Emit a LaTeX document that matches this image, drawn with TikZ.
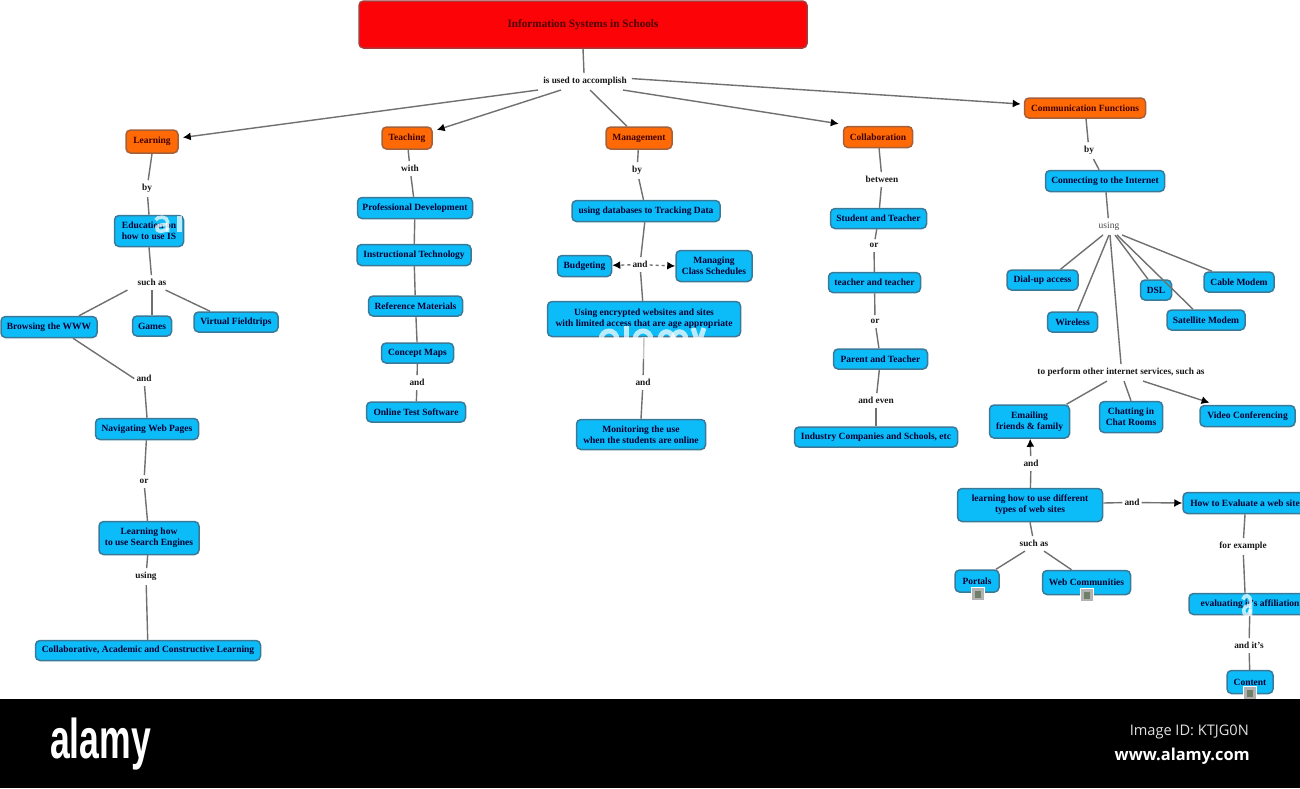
\documentclass[tikz,border=0pt]{standalone}
\usepackage{fontspec}
\setmainfont{Liberation Serif}
\newfontfamily\wmfont{Liberation Sans}
\newfontfamily\idfont{Open Sans}
\usetikzlibrary{arrows.meta}
\definecolor{cblue}{HTML}{0CBCF8}
\definecolor{cblueedge}{HTML}{3A7A98}
\definecolor{corange}{HTML}{FF6A06}
\definecolor{corangeedge}{HTML}{A5603A}
\definecolor{cred}{HTML}{FC0307}
\definecolor{credge}{HTML}{A83A3A}
\definecolor{linkgrey}{HTML}{707070}
\definecolor{iconmid}{HTML}{6F7F68}
\tikzset{
  base/.style={rounded corners=4.5pt,line width=1.5pt,inner sep=0pt,align=center,font=\fontsize{9.5}{11}\selectfont\bfseries},
  sz/.style 2 args={minimum width=#1,minimum height=#2},
  bluebox/.style={base,fill=cblue,draw=cblueedge,text=black!80!blue},
  orangebox/.style={base,fill=corange,draw=corangeedge,text=black!75!red},
  redbox/.style={base,fill=cred,draw=credge,text=black!70!red},
  lbl/.style={inner xsep=2pt,inner ysep=4pt,yshift=-.6pt,font=\fontsize{9.3}{11}\selectfont\bfseries,text=black!90},
  link/.style={draw=linkgrey,line width=1.4pt},
  arr/.style={link,-{Latex[length=8pt,width=8pt,black]}},
  res/.style={draw=white,fill=black!30,line width=1.2pt,minimum width=13pt,minimum height=13pt,inner sep=0pt},
  resin/.style={fill=iconmid,draw=none,minimum width=6pt,minimum height=7pt,inner sep=0pt},
  wmstroke/.style={draw=white,opacity=.72,line width=3.5pt},
  wmband/.style={draw=white,opacity=.72,line width=5pt},
}
\begin{document}
\begin{tikzpicture}[x=1pt,y=-1pt]
\clip (0,0) rectangle (1300,788);
\fill[white] (0,0) rectangle (1300,788);
% root
\node[redbox,sz={448pt}{47pt},font=\fontsize{11.2}{13}\selectfont\bfseries] (root) at (583,24.5) {Information Systems in Schools};
\node[lbl] (acc) at (585,81) {is used to accomplish};
% heads
\node[orangebox,sz={52pt}{23pt}] (learning) at (152,141.5) {Learning};
\node[orangebox,sz={50pt}{22pt}] (teaching) at (407,138) {Teaching};
\node[orangebox,sz={66pt}{22pt}] (management) at (639,138) {Management};
\node[orangebox,sz={69pt}{21pt}] (collab) at (878,137) {Collaboration};
\node[orangebox,sz={121pt}{20pt}] (comm) at (1085,108) {Communication Functions};
% learning column
\node[lbl] (lby) at (147,188) {by};
\node[bluebox,sz={69pt}{31pt}] (edu) at (149,231) {Education on\\how to use IS};
\node[lbl] (lsuch) at (152,282) {such as};
\node[bluebox,sz={96pt}{21pt}] (browse) at (49,327) {Browsing the WWW};
\node[bluebox,sz={39pt}{20pt}] (games) at (152,326) {Games};
\node[bluebox,sz={84pt}{20pt}] (virtual) at (236,322) {Virtual Fieldtrips};
\node[lbl] (land) at (144,378) {and};
\node[bluebox,sz={103pt}{21pt}] (nav) at (147,429) {Navigating Web Pages};
\node[lbl] (lor) at (144,481) {or};
\node[bluebox,sz={100pt}{33pt}] (search) at (149,538) {Learning how\\to use Search Engines};
\node[lbl] (lusing) at (146,576) {using};
\node[bluebox,sz={225pt}{20pt}] (collabl) at (148,650.5) {Collaborative, Academic and Constructive Learning};
% teaching column
\node[lbl] (twith) at (410,168) {with};
\node[bluebox,sz={115pt}{21pt}] (prof) at (415,208) {Professional Development};
\node[bluebox,sz={114pt}{21pt}] (instr) at (414,255) {Instructional Technology};
\node[bluebox,sz={94pt}{20pt}] (refm) at (415.5,306) {Reference Materials};
\node[bluebox,sz={72pt}{20pt}] (cmaps) at (417.5,353) {Concept Maps};
\node[lbl] (tand) at (417,382) {and};
\node[bluebox,sz={99pt}{20pt}] (online) at (416,412) {Online Test Software};
% management column
\node[lbl] (mby) at (637,170) {by};
\node[bluebox,sz={148pt}{21pt}] (db) at (646,211) {using databases to Tracking Data};
\node[bluebox,sz={54pt}{21pt}] (budget) at (584.5,266) {Budgeting};
\node[lbl] (mand) at (640,264) {and};
\node[bluebox,sz={76pt}{31pt}] (sched) at (714,266) {Managing\\Class Schedules};
\node[bluebox,sz={193pt}{35pt}] (encr) at (644,319) {Using encrypted websites and sites\\with limited access that are age appropriate};
\node[lbl] (mand2) at (643,382) {and};
\node[bluebox,sz={129pt}{30pt}] (monitor) at (641,434.5) {Monitoring the use\\when the students are online};
% collaboration column
\node[lbl] (between) at (882,179) {between};
\node[bluebox,sz={96pt}{20pt}] (st) at (878.5,218.5) {Student and Teacher};
\node[lbl] (cor1) at (874,245) {or};
\node[bluebox,sz={92pt}{20pt}] (tt) at (874.5,282.5) {teacher and teacher};
\node[lbl] (cor2) at (875,321) {or};
\node[bluebox,sz={94pt}{20pt}] (pt) at (880.5,359) {Parent and Teacher};
\node[lbl] (even) at (876,400) {and even};
\node[bluebox,sz={163pt}{20pt}] (ind) at (876,437) {Industry Companies and Schools, etc};
% communication column
\node[lbl] (cby) at (1089,150) {by};
\node[bluebox,sz={119pt}{21pt}] (conn) at (1105,181) {Connecting to the Internet};
\node[lbl,text=black!70,font=\fontsize{9.5}{11}\selectfont] (cusing) at (1109,226) {using};
\node[bluebox,sz={71pt}{20pt}] (dial) at (1042.5,280) {Dial-up access};
\node[bluebox,sz={50pt}{20pt}] (wireless) at (1072.5,322) {Wireless};
\node[bluebox,sz={31pt}{20pt}] (dsl) at (1156,290) {DSL};
\node[bluebox,sz={78pt}{20pt}] (sat) at (1206,320) {Satellite Modem};
\node[bluebox,sz={70pt}{20pt}] (cable) at (1239,282) {Cable Modem};
\node[lbl] (perform) at (1121,372) {to perform other internet services, such as};
\node[bluebox,sz={80pt}{33pt}] (email) at (1029.5,421.5) {Emailing\\friends \& family};
\node[bluebox,sz={63pt}{31pt}] (chat) at (1131,417) {Chatting in\\Chat Rooms};
\node[bluebox,sz={95pt}{21pt}] (video) at (1247.5,416) {Video Conferencing};
\node[lbl] (eand) at (1031,463) {and};
\node[bluebox,sz={145pt}{33pt}] (types) at (1030,505) {learning how to use different\\types of web sites};
\node[lbl] (wand) at (1132,502) {and};
\node[bluebox,sz={124pt}{21pt}] (eval) at (1245,503) {How to Evaluate a web site};
\node[lbl] (wsuch) at (1034,543) {such as};
\node[bluebox,sz={44pt}{22pt}] (portals) at (977,581) {Portals};
\node[bluebox,sz={88pt}{24pt}] (webc) at (1086.5,582.5) {Web Communities};
\node[res] (icona) at (978,594) {};
\node[resin] (iconain) at (978,594) {};
\node[res] (iconb) at (1087,595) {};
\node[resin] (iconbin) at (1087,595) {};
\node[lbl] (forex) at (1243,546) {for example};
\node[bluebox,sz={122pt}{21pt}] (affil) at (1250,604) {evaluating it's affiliation};
\node[lbl] (andits) at (1249,645) {and it's};
\node[bluebox,sz={46pt}{23pt}] (content) at (1250,682) {Content};
\node[res] (iconc) at (1250,693) {};
\node[resin] (iconcin) at (1250,693) {};
% connectors
\draw[link] (root.south) -- ([xshift=-1pt]acc.north);
\draw[arr] ([xshift=-3pt]acc.south west) -- ([xshift=4pt,yshift=4pt]learning.east);
\draw[arr] ([xshift=-24pt]acc.south) -- ([xshift=4pt,yshift=8pt]teaching.east);
\draw[link] ([xshift=5pt]acc.south) -- ([xshift=-12pt]management.north);
\draw[arr] ([xshift=38pt]acc.south) -- ([xshift=-4pt,yshift=2pt]collab.north west);
\draw[arr] ([xshift=3pt,yshift=3pt]acc.east) -- ([xshift=-3pt,yshift=4pt]comm.west);
\draw[link] (learning.south) -- (lby);
\draw[link] (lby) -- (edu.north);
\draw[link] (edu.south) -- (lsuch);
\draw[link] ([xshift=-8pt]lsuch.south west) -- ([xshift=30pt]browse.north);
\draw[link] (lsuch) -- (games);
\draw[link] ([xshift=-3pt]lsuch.south east) -- ([xshift=-26pt]virtual.north);
\draw[link] ([xshift=24pt]browse.south) -- (land.west);
\draw[link] (land) -- (nav.north);
\draw[link] (nav) -- (lor);
\draw[link] (lor) -- (search);
\draw[link] (search) -- (lusing);
\draw[link] (lusing) -- (collabl);
\draw[link] (teaching) -- (twith);
\draw[link] (twith) -- (prof);
\draw[link] (prof) -- (instr);
\draw[link] (instr) -- (refm);
\draw[link] (refm) -- (cmaps);
\draw[link] (cmaps) -- (tand);
\draw[link] (tand) -- (online);
\draw[link] (management) -- (mby);
\draw[link] (mby) -- (db);
\draw[link] (db) -- (mand);
\draw[link] (mand) -- (encr);
\draw[arr,dashed] (mand) -- (budget);
\draw[arr,dashed] (mand) -- (sched.west);
\draw[link] (encr.south) -- (mand2);
\draw[link] (mand2) -- (monitor.north);
\draw[link] (collab) -- (between);
\draw[link] (between) -- (st);
\draw[link] (st) -- (cor1);
\draw[link] (cor1) -- (tt);
\draw[link] (tt) -- (cor2);
\draw[link] (cor2) -- (pt);
\draw[link] (pt) -- (even);
\draw[link] (even) -- (ind);
\draw[link] (comm) -- (cby);
\draw[link] (cby) -- (conn);
\draw[link] (conn) -- (cusing);
\draw[link] ([xshift=-6pt]cusing.south) -- ([xshift=18pt]dial.north);
\draw[link] ([xshift=0pt]cusing.south) -- ([xshift=5pt]wireless.north);
\draw[link] ([xshift=6pt]cusing.south) -- ([xshift=-8pt]dsl.north);
\draw[link] ([xshift=8pt]cusing.south) -- ([xshift=-13pt]sat.north);
\draw[link] ([xshift=13pt]cusing.south) -- ([xshift=-27pt]cable.north);
\draw[link] ([xshift=1pt]cusing.south) -- (perform.north);
\draw[link] ([xshift=-14pt]perform.south) -- ([xshift=37pt]email.north);
\draw[link] ([xshift=3pt]perform.south) -- (chat.north);
\draw[arr] ([xshift=22pt]perform.south) -- ([xshift=-38pt,yshift=2pt]video.north);
\draw[link] (types) -- (eand);
\draw[arr] (eand) -- (email);
\draw[link] ([yshift=2pt]types.east) -- (wand.west);
\draw[arr] (wand.east) -- (eval.west);
\draw[link] (types.south) -- (wsuch);
\draw[link] ([xshift=-9pt]wsuch.south) -- ([xshift=19pt]portals.north);
\draw[link] ([xshift=10pt]wsuch.south) -- ([xshift=-15pt]webc.north);
\draw[link] (eval.south) -- (forex);
\draw[link] (forex) -- ([xshift=-5pt]affil.north);
\draw[link] (affil) -- (andits);
\draw[link] (andits) -- (content);
% watermark fragments, drawn as shapes
\begin{scope}[shift={(162,224)},xscale=8,yscale=8]
\draw[wmstroke] (-.8,-.5) .. controls (-.6,-1) and (.7,-1) .. (.7,-.3) -- (.7,1);
\draw[wmstroke] (.7,.1) .. controls (-.9,-.1) and (-1,.9) .. (-.1,.9) .. controls (.3,.9) and (.7,.6) .. (.7,.4);
\draw[wmstroke,line width=5pt] (2.2,-1) -- (2.2,1);
\end{scope}
\begin{scope}[shift={(1247,605)},xscale=5,yscale=11]
\draw[wmstroke] (-.8,-.5) .. controls (-.6,-1) and (.7,-1) .. (.7,-.3) -- (.7,1);
\draw[wmstroke] (.7,.1) .. controls (-.9,-.1) and (-1,.9) .. (-.1,.9) .. controls (.3,.9) and (.7,.6) .. (.7,.4);
\end{scope}
\begin{scope}
\clip (590,326) rectangle (710,337);
\draw[wmband] (601,340) .. controls (601,328) and (617,328) .. (617,340);
\draw[wmband] (626,326) -- (626,340);
\draw[wmband] (635,340) .. controls (635,328) and (651,328) .. (651,340);
\draw[wmband] (660,340) .. controls (660,329) and (673,329) .. (673,340);
\draw[wmband] (673,340) .. controls (673,329) and (686,329) .. (686,340);
\draw[wmband] (693,328) -- (697,340);
\draw[wmband] (704,328) -- (700,340);
\end{scope}
\draw[white,opacity=.6,line width=5pt] (encr.south) -- ++(0,22);
% band
\fill[black] (0,699) rectangle (1300,788);
\node[text=white,font=\wmfont\bfseries\fontsize{56}{56}\selectfont,xscale=.635,inner sep=0pt,anchor=base] (logo) at (100.5,758) {alamy};
\node[text=white!88!black,font=\idfont\fontsize{14.6}{15}\selectfont,inner sep=0pt,anchor=base east] (imgid) at (1249,735) {Image ID: KTJG0N};
\node[text=white,font=\idfont\bfseries\fontsize{16.4}{17}\selectfont,inner sep=0pt,anchor=base east] (web) at (1250,760) {www.alamy.com};
\end{tikzpicture}
\end{document}
